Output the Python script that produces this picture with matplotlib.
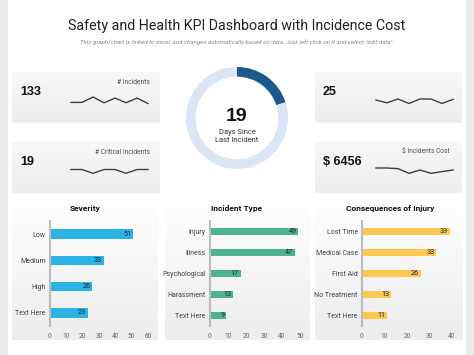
import matplotlib
matplotlib.use("Agg")
import matplotlib.pyplot as plt
import numpy as np
from matplotlib.patches import Rectangle

plt.rcParams['font.family'] = ['Roboto', 'DejaVu Sans']

W, H = 474, 355

# ---------------- data ----------------
title = "Safety and Health KPI Dashboard with Incidence Cost"
subtitle = 'This graph/chart is linked to excel, and changes automatically based on data. Just left click on it and select "edit data".'

kpi_values = ["133", "19", "25", "$ 6456"]
kpi_labels = ["# Incidents", "# Critical Incidents", "", "$ Incidents Cost"]
incidents_trend = [13, 13, 28, 12, 25, 12, 25, 10]
critical_trend = [20, 20, 10, 20, 20, 10, 20, 20]
kpi3_trend = [20, 12, 23, 10, 23, 23, 10, 22]
cost_trend = [26, 26, 24, 10, 20, 10, 15, 20]

donut_days = 19
donut_rest = 76
donut_text = "Days Since\nLast Incident"

severity_cats = ["Low", "Medium", "High", "Text Here"]
severity_vals = [51, 33, 26, 23]
severity_ticks = [0, 10, 20, 30, 40, 50, 60]

type_cats = ["Injury", "Illness", "Psychological", "Harassment", "Text Here"]
type_vals = [49, 47, 17, 13, 9]
type_ticks = [0, 10, 20, 30, 40, 50]

conseq_cats = ["Lost Time", "Medical Case", "First Aid", "No Treatment", "Text Here"]
conseq_vals = [39, 33, 26, 13, 11]
conseq_ticks = [0, 10, 20, 30, 40]

# ---------------- figure ----------------
fig = plt.figure(figsize=(W / 100, H / 100), dpi=100)
fig.patch.set_facecolor("white")


def rect(x0, y0, x1, y1):
    """pixel box (top-left origin) -> figure fraction rect"""
    return [x0 / W, 1 - y1 / H, (x1 - x0) / W, (y1 - y0) / H]


# background layer
bg = fig.add_axes([0, 0, 1, 1])
bg.set_xlim(0, W)
bg.set_ylim(H, 0)
bg.axis("off")
bg.add_patch(Rectangle((0, 0), 8, H, facecolor="#EBEBEB", edgecolor="none"))
bg.add_patch(Rectangle((466, 0), 8, H, facecolor="#EBEBEB", edgecolor="none"))


def gradient_box(x0, y0, x1, y1, top="#FFFFFF", bottom="#EFEFEF"):
    grad = np.linspace(0, 1, 64).reshape(-1, 1)
    c0 = np.array(matplotlib.colors.to_rgb(top))
    c1 = np.array(matplotlib.colors.to_rgb(bottom))
    img = c0[None, None, :] * (1 - grad[:, :, None]) + c1[None, None, :] * grad[:, :, None]
    bg.imshow(img, extent=(x0, x1, y1, y0), aspect="auto", zorder=1)


# KPI cards
cards = [(12, 72, 160, 123), (12, 142, 160, 193), (315, 72, 462, 123), (315, 142, 462, 193)]
for (x0, y0, x1, y1) in cards:
    gradient_box(x0, y0, x1, y1, top="#F7F7F7", bottom="#EEEEEE")

# bar panels
panels = [(12, 198, 158, 340), (165, 198, 310, 340), (315, 198, 463, 340)]
for (x0, y0, x1, y1) in panels:
    gradient_box(x0, y0, x1, y1, top="#FFFFFF", bottom="#EDEDED")
bg.set_xlim(0, W)
bg.set_ylim(H, 0)

# titles
bg.text(237, 26, title, ha="center", va="center", fontsize=10.3, color="#222222")
bg.text(237, 42, subtitle, ha="center", va="center", fontsize=4.4, color="#8A8A8A", style="italic")

# KPI texts
value_pos = [(20, 92), (20, 162), (323, 92), (323, 162)]
label_pos = [(150, 83), (150, 152), (450, 83), (450, 152)]
for v, (x, y) in zip(kpi_values, value_pos):
    bg.text(x, y, v, ha="left", va="center", fontsize=9, fontweight="bold", color="#111111",
            family=["Liberation Sans", "DejaVu Sans"])
for lab, (x, y) in zip(kpi_labels, label_pos):
    if lab:
        bg.text(x, y, lab, ha="right", va="center", fontsize=4.8, color="#555555")

# sparklines
sparks = [
    (incidents_trend, (71, 97, 148, 103.5)),
    (critical_trend, (71, 169.5, 148, 173.3)),
    (kpi3_trend, (376, 99, 453, 103.5)),
    (cost_trend, (376, 168, 453, 173.3)),
]
for series, (x0, y0, x1, y1) in sparks:
    ax = fig.add_axes(rect(x0, y0, x1, y1))
    ax.plot(range(len(series)), series, color="#3A3F47", lw=1.0, clip_on=False)
    ax.set_ylim(min(series), max(series))
    ax.set_xlim(0, len(series) - 1)
    ax.axis("off")

# donut
dax = fig.add_axes(rect(186, 67, 288, 169))
dax.pie([donut_days, donut_rest], colors=["#1D5A8C", "#DCE5F3"], startangle=90, counterclock=False,
        wedgeprops=dict(width=0.19, edgecolor="none"), radius=1.0)
dax.set_xlim(-1, 1)
dax.set_ylim(-1, 1)
dax.set_aspect("equal")
dax.text(0, 0.03, str(donut_days), ha="center", va="center", fontsize=14, fontweight="bold",
         color="#111111", family=["Liberation Sans", "DejaVu Sans"])
dax.text(0, -0.36, donut_text, ha="center", va="center", fontsize=5.4, color="#333333",
         linespacing=1.1)


def bar_panel(box, cats, vals, ticks, color, ptitle, title_pos):
    x0, y0, x1, y1 = box
    ax = fig.add_axes(rect(x0, y0, x1, y1))
    ax.patch.set_alpha(0)
    y = np.arange(len(cats))
    ax.barh(y, vals, height=0.36, color=color, zorder=2)
    ax.set_yticks(y)
    ax.set_yticklabels(cats, fontsize=5, color="#444444")
    ax.set_xlim(ticks[0], ticks[-1])
    ax.set_ylim(len(cats) - 0.5, -0.5)
    ax.set_xticks(ticks)
    ax.set_xticklabels([str(t) for t in ticks], fontsize=4.8, color="#666666")
    ax.tick_params(length=0, pad=3)
    ax.tick_params(axis="x", pad=5)
    for s in ["top", "right", "bottom"]:
        ax.spines[s].set_visible(False)
    ax.spines["left"].set_color("#BBBBBB")
    ax.spines["left"].set_linewidth(1.5)
    for yi, v in zip(y, vals):
        ax.text(v - (ticks[-1] * 0.02), yi, str(v), ha="right", va="center", fontsize=5.2,
                color="#1E2A38", zorder=3)
    bg.text(title_pos[0], title_pos[1], ptitle, ha="center", va="center", fontsize=6,
            fontweight="bold", color="#111111")
    return ax


bar_panel((50, 221, 148, 326), severity_cats, severity_vals, severity_ticks, "#2BB3E6",
          "Severity", (85, 209))
bar_panel((210, 221, 300, 326), type_cats, type_vals, type_ticks, "#4CB38E",
          "Incident Type", (237, 209))
bar_panel((362, 221, 452, 326), conseq_cats, conseq_vals, conseq_ticks, "#FBC94F",
          "Consequences of Injury", (390, 209))

fig.savefig("out.png", dpi=100)
